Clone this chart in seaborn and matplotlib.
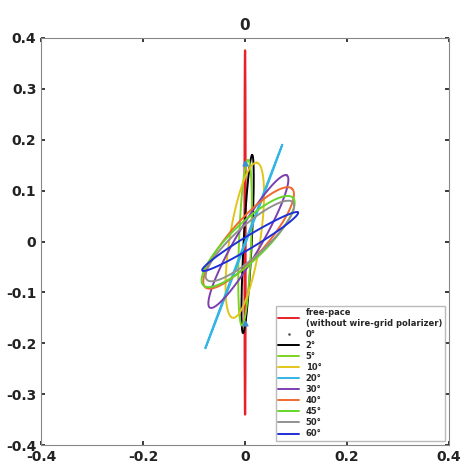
import numpy as np
import pandas as pd
import seaborn as sns
import matplotlib
matplotlib.use("Agg")
import matplotlib.pyplot as plt

sns.set_theme(style="white")
plt.rcParams['font.family'] = ['DejaVu Sans']

labels = ["free-pace\n(without wire-grid polarizer)", "2°", "5°", "10°", "20°", "30°", "40°", "45°", "50°", "60°"]
colors = ["#e8202a", "#000000", "#7ed321", "#e3c51a", "#33b5e5", "#7b3fb0", "#f06a30", "#66d62a", "#909090", "#1f2fd6"]
# major axis endpoints (top x, top y, bottom x, bottom y) and minor half-width
top_x = [0.0, 0.014, 0.006, 0.023, 0.073, 0.082, 0.092, 0.094, 0.094, 0.104]
top_y = [0.375, 0.17, 0.16, 0.155, 0.19, 0.13, 0.104, 0.086, 0.077, 0.057]
bot_x = [0.0, -0.004, -0.006, -0.024, -0.078, -0.069, -0.078, -0.082, -0.075, -0.084]
bot_y = [-0.34, -0.18, -0.165, -0.15, -0.21, -0.13, -0.09, -0.086, -0.075, -0.057]
minor = [0.001, 0.008, 0.012, 0.03, 0.001, 0.025, 0.035, 0.035, 0.03, 0.012]
dots_x = [0.0, 0.0]
dots_y = [0.155, -0.16]

fig = plt.figure(figsize=(4.74, 4.74), dpi=100)
ax = fig.add_axes([0.087, 0.061, 0.86, 0.859])
t = np.linspace(0, 2 * np.pi, 400)
handles = []
for i, lab in enumerate(labels):
    cx = (top_x[i] + bot_x[i]) / 2; cy = (top_y[i] + bot_y[i]) / 2
    ax_x = (top_x[i] - bot_x[i]) / 2; ax_y = (top_y[i] - bot_y[i]) / 2
    L = np.hypot(ax_x, ax_y)
    px, py = -ax_y / L * minor[i], ax_x / L * minor[i]
    df = pd.DataFrame({"x": cx + ax_x * np.cos(t) + px * np.sin(t),
                       "y": cy + ax_y * np.cos(t) + py * np.sin(t)})
    sns.lineplot(data=df, x="x", y="y", sort=False, estimator=None, color=colors[i],
                 lw=1.6 if i == 0 else 1.4, ax=ax, legend=False)
    h, = ax.plot([], [], color=colors[i], lw=1.4, label=lab)
    handles.append(h)
ax.scatter(dots_x, dots_y, marker="^", s=12, color="#3a8fd0", zorder=5)
handles.insert(1, ax.scatter([], [], marker=".", s=3, color="#555555", label="0°"))
ax.legend(handles=handles, loc="lower right", frameon=True, handlelength=2.5,
          borderpad=0.3, labelspacing=0.25, fancybox=False, edgecolor="#aaaaaa",
          prop={"weight": "bold", "size": 6})
ax.set_xlim(-0.4, 0.4); ax.set_ylim(-0.4, 0.4)
ax.set_xticks([-0.4, -0.2, 0, 0.2, 0.4]); ax.set_xticklabels(["-0.4", "-0.2", "0", "0.2", "0.4"])
ax.set_yticks(np.round(np.arange(-0.4, 0.41, 0.1), 1))
ax.set_yticklabels(["-0.4", "-0.3", "-0.2", "-0.1", "0", "0.1", "0.2", "0.3", "0.4"])
ax.tick_params(direction="in", length=3, labelsize=10, colors="#222222", top=True, right=True, left=True, bottom=True)
for lbl in ax.get_xticklabels() + ax.get_yticklabels():
    lbl.set_fontweight("bold")
for s in ax.spines.values():
    s.set_color("#888888"); s.set_linewidth(0.8)
ax.set_xlabel(""); ax.set_ylabel("")
ax.set_title("0", fontsize=11, fontweight="bold", pad=6)
fig.savefig("out.png", dpi=100)
